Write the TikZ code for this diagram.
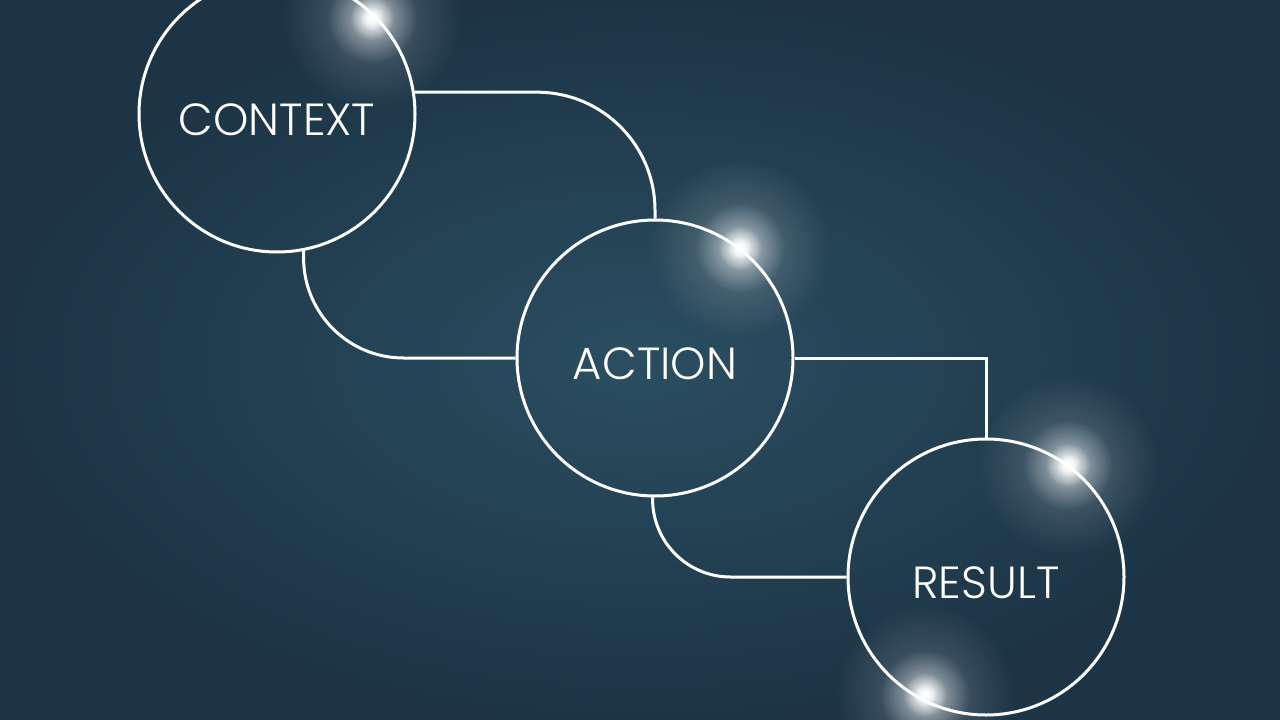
\documentclass[tikz,border=0pt]{standalone}
\usepackage{fontspec}
\setmainfont{Poppins Light}
\usetikzlibrary{fadings}

\definecolor{bgdark}{HTML}{1C3446}
\definecolor{bglight}{HTML}{2B4E61}
\tikzfading[name=glowfade, inner color=transparent!0, outer color=transparent!100]

\begin{document}
\begin{tikzpicture}[x=1pt, y=-1pt,
		stage/.style = {shape=circle, draw=white, line width=3pt, minimum size=276pt, inner sep=0pt,
	text=white, font=\fontsize{45}{54}\selectfont, text height=42pt, text depth=0pt},
		link/.style = {draw=white, line width=3pt},
		glow/.style = {fill=white, path fading=glowfade}]
			\useasboundingbox (0,0) rectangle (1280,720);
			\shade[inner color=bglight, outer color=bgdark] (0,0) rectangle (1280,720);
			\node[stage] (ctx) at (277,114) {CONTEXT};
			\node[stage] (act) at (655,358) {ACTION};
			\node[stage] (res) at (986,577) {RESULT};
			\draw[link, rounded corners=118pt] (ctx.9) -| (act.north);
			\draw[link, rounded corners=100pt] (ctx.-79) |- (act.west);
			\draw[link] (act.east) -| (res.north);
			\draw[link, rounded corners=78pt] (act.-91) |- (res.west);
			% light spots on the rings
			\foreach \gx/\gy in {372/18, 740/248, 1068/465, 925/695} {
				\fill[glow, opacity=0.25] (\gx,\gy) circle (90);
				\fill[glow, opacity=0.6] (\gx,\gy) circle (45);
				\fill[glow] (\gx,\gy) circle (22);
				\fill[glow] (\gx,\gy) circle (12);
			}
		\end{tikzpicture}
\end{document}
